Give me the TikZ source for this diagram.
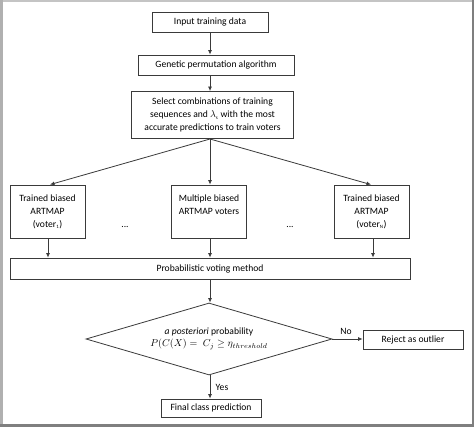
\documentclass[tikz,border=0pt]{standalone}
\usepackage{fontspec}
\usepackage{amsmath}
\setmainfont{Carlito}
\usetikzlibrary{shapes.geometric,arrows.meta}
\definecolor{linegray}{HTML}{3A3A3A}
\definecolor{frameA}{HTML}{C4C4C4}
\definecolor{frameB}{HTML}{7F7F7F}
\tikzset{
    box/.style={draw=linegray, line width=0.8pt, inner sep=0pt, align=center, font=\fontsize{9.6}{12.6}\selectfont},
    decide/.style={draw=linegray, line width=0.8pt, diamond, aspect=3.4, inner sep=0pt, align=center, font=\fontsize{9.6}{13}\selectfont},
    flow/.style={draw=linegray, line width=0.8pt, -{Latex[length=4.5pt,width=4pt]}},
    tag/.style={font=\fontsize{9.6}{11}\selectfont}
}
\begin{document}
\begin{tikzpicture}[x=1pt, y=-1pt]
        % frame
        \useasboundingbox (0,0) rectangle (474,427);
        \fill[white] (0,0) rectangle (474,427);
        \fill[frameA] (0,0) rectangle (474,2);
        \fill[frameA!90!black] (0,0) rectangle (2.5,427);
        \fill[frameB] (471.5,0) rectangle (474,427);
        \fill[frameB] (0,424) rectangle (474,427);

        % top of the chart
        \node[box, minimum width=116pt, minimum height=20pt] (input) at (210,22) {Input training data};
        \node[box, minimum width=156pt, minimum height=20pt] (gen) at (216,65) {Genetic permutation algorithm};
        \node[box, minimum width=161.5pt, minimum height=47pt] (select) at (212.5,115)
            {Select combinations of training\\ sequences and $\lambda_{\text{\tiny s}}$ with the most\\ accurate predictions to train voters};
        \draw[flow] (input.south -| 210,0) -- (gen.north -| 210,0);
        \draw[flow] (gen.south -| 210,0) -- (select.north -| 210,0);

        % voters
        \def\y{211.5}
        \node[box, minimum width=75pt, minimum height=53pt, font=\fontsize{9.6}{13}\selectfont] (v1) at (47.5,\y) {Trained biased\\ ARTMAP\\ (voter$_{\text{\tiny 1}}$)};
        \node[box, minimum width=75pt, minimum height=53pt, font=\fontsize{9.6}{13}\selectfont] (v2) at (209,\y) {Multiple biased\\ ARTMAP voters\\ \mbox{}};
        \node[box, minimum width=75pt, minimum height=53pt, font=\fontsize{9.6}{13}\selectfont] (v3) at (371.5,\y) {Trained biased\\ ARTMAP\\ (voter$_{\text{\tiny N}}$)};
        \node[tag] (dots1) at (125,227) {...};
        \node[tag] (dots2) at (290,227) {...};
        \coordinate (fan) at (210,139);
        \draw[flow] (fan) -- (v1.north -| 50,0);
        \draw[flow] (fan) -- (v2.north -| 210,0);
        \draw[flow] (fan) -- (v3.north -| 371,0);

        \node[box, minimum width=400pt, minimum height=21pt] (vote) at (210,268.5) {Probabilistic voting method};
        \draw[flow] (v1.south -| 48,0) -- (vote.north -| 48,0);
        \draw[flow] (v2.south -| 210,0) -- (vote.north -| 210,0);
        \draw[flow] (v3.south -| 373,0) -- (vote.north -| 373,0);

        % decision
        \node[decide, minimum width=246pt, minimum height=72pt] (test) at (209,339)
            {\textit{a posteriori} probability\\[-1pt] $P(C(X) = \;C_j \geq \eta_{threshold}$};
        \node[box, minimum width=100pt, minimum height=19pt] (reject) at (413,339.5) {Reject as outlier};
        \node[box, minimum width=100pt, minimum height=18pt] (final) at (211,408) {Final class prediction};
        \draw[flow] (vote.south -| 210,0) -- (test.north -| 210,0);
        \draw[flow] (test.east) -- (reject.west |- test.east) node[tag, pos=0.45, above=1pt] {No};
        \draw[flow] (test.south -| 210,0) -- (final.north -| 210,0) node[tag, midway, right=2pt] {Yes};
    \end{tikzpicture}
\end{document}
